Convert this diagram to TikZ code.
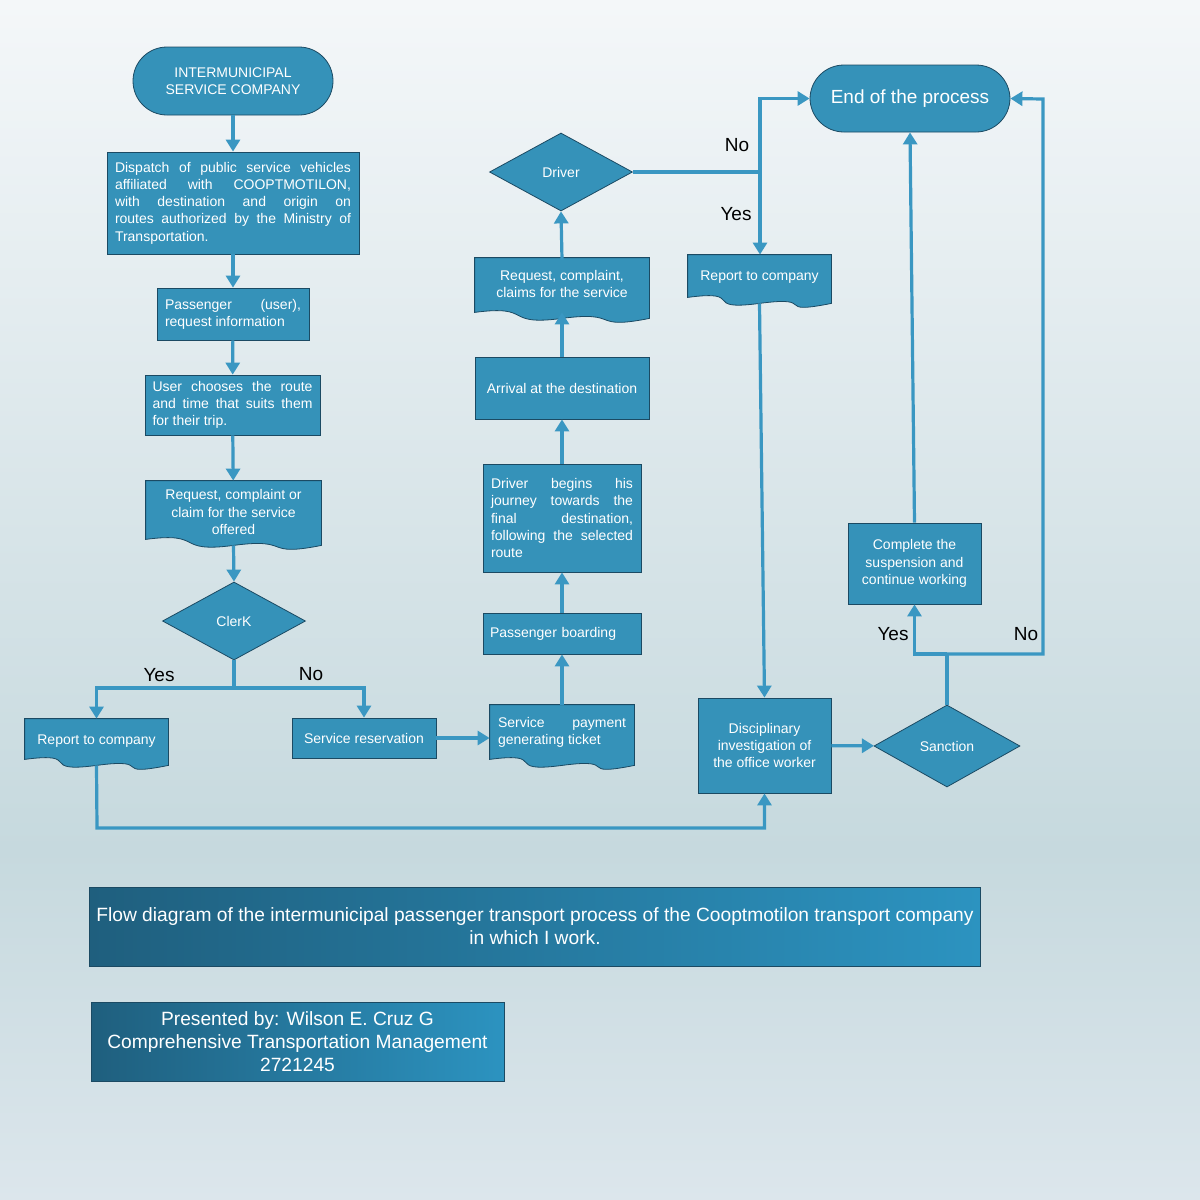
\documentclass[tikz,border=0pt]{standalone}
\usepackage{fontspec}
\setmainfont{Liberation Sans}
\usetikzlibrary{shapes.geometric,arrows.meta,calc}
\definecolor{bfill}{HTML}{3592B9}
\definecolor{bdraw}{HTML}{1B4A63}
\definecolor{lcol}{HTML}{3A97C2}
\definecolor{bgtop}{HTML}{F4F7F9}
\definecolor{bgmid}{HTML}{C6D9DE}
\definecolor{bgbot}{HTML}{DCE6EC}
\definecolor{capl}{HTML}{1F5F7E}
\definecolor{capr}{HTML}{2C93C0}
\hyphenpenalty=10000 \exhyphenpenalty=10000
\begin{document}
\begin{tikzpicture}[x=0.5pt,y=-0.5pt,
 box/.style={draw=bdraw,fill=bfill,text=white,font=\fontsize{7}{8.6}\selectfont,inner sep=3pt},
 doc/.style={font=\fontsize{7}{8.6}\selectfont,text=white,inner sep=3pt},
 dia/.style={diamond,draw=bdraw,fill=bfill,text=white,font=\fontsize{7}{8.6}\selectfont,aspect=1.8,inner sep=1pt},
 ln/.style={draw=lcol,line width=1.6pt},
 ar/.style={ln,-{Triangle[length=6pt,width=7pt]}},
 lab/.style={font=\fontsize{9.5}{11}\selectfont,text=black}]
\useasboundingbox (0,0) rectangle (1200,1200);
\shade[top color=bgtop, bottom color=bgmid] (0,0) rectangle (1200,850);
\shade[top color=bgmid, bottom color=bgbot] (0,850) rectangle (1200,1200);
\newcommand{\docdraw}[1]{\fill[bfill,draw=bdraw] (#1.north west) -- (#1.north east) -- ([yshift=-3pt]#1.south east) .. controls +(-30pt,-6pt) and +(30pt,4pt) .. ([yshift=-3pt]$(#1.south west)!0.5!(#1.south east)$) .. controls +(-30pt,-4pt) and +(30pt,4pt) .. (#1.south west) -- cycle;}
% nodes
\node[box,rounded corners=17pt,minimum width=100pt,minimum height=34pt,align=center] (start) at (233,81) {INTERMUNICIPAL\\SERVICE COMPANY};
\node[box,minimum width=126pt,minimum height=51pt,text width=118pt,align=justify] (disp) at (233,203) {Dispatch of public service vehicles affiliated with COOPTMOTILON, with destination and origin on routes authorized by the Ministry of Transportation.};
\node[box,minimum width=76pt,minimum height=26pt,text width=68pt,align=justify] (pass) at (233,314) {Passenger (user), request information};
\node[box,minimum width=87.5pt,minimum height=30pt,text width=80pt,align=justify] (user) at (232.5,405) {User chooses the route and time that suits them for their trip.};
\node[doc,minimum width=87.5pt,minimum height=29pt,align=center] (req) at (233.5,510) {};
\docdraw{req}
\node[doc,align=center] at (233.5,512) {Request, complaint or\\claim for the service\\offered};
\node[dia,minimum width=71.5pt,minimum height=39pt] (clerk) at (234,621) {ClerK};
\node[doc,minimum width=71.5pt,minimum height=20pt] (rep1) at (96.5,739) {};
\docdraw{rep1}
\node[doc] at (96.5,741) {Report to company};
\node[box,minimum width=72pt,minimum height=20pt] (res) at (364,738) {Service reservation};
\node[doc,minimum width=72pt,minimum height=27pt] (pay) at (562,732) {};
\docdraw{pay}
\node[doc,text width=64pt,align=justify] at (562,732) {Service payment generating ticket};
\node[box,minimum width=79pt,minimum height=20.5pt,text width=72pt,align=left] (board) at (562,633.5) {Passenger boarding};
\node[box,minimum width=79pt,minimum height=54pt,text width=71pt,align=justify] (begin) at (562,518) {Driver begins his journey towards the final destination, following the selected route};
\node[box,minimum width=87pt,minimum height=31pt] (arr) at (562,388) {Arrival at the destination};
\node[doc,minimum width=87pt,minimum height=27pt] (claim) at (562,285) {};
\docdraw{claim}
\node[doc,align=center] at (562,284) {Request, complaint,\\claims for the service};
\node[dia,minimum width=71.5pt,minimum height=39pt] (drv) at (561,172) {Driver};
\node[doc,minimum width=71.5pt,minimum height=21pt] (rep2) at (759.5,276) {};
\docdraw{rep2}
\node[doc] at (759.5,277) {Report to company};
\node[box,minimum width=66.5pt,minimum height=47.5pt,align=center] (disc) at (764.5,745.5) {Disciplinary\\investigation of\\the office worker};
\node[dia,minimum width=73pt,minimum height=41pt] (sanc) at (947,746) {Sanction};
\node[box,minimum width=66.5pt,minimum height=40.5pt,align=center] (comp) at (914.5,563.5) {Complete the\\suspension and\\continue working};
\node[box,rounded corners=17pt,minimum width=100pt,minimum height=33.5pt,font=\fontsize{9.5}{11}\selectfont] (end) at (910,98.5) {End of the process};
% caption boxes
\node[draw=bdraw,left color=capl,right color=capr,text=white,minimum width=444pt,minimum height=39.5pt,align=center,font=\fontsize{9.6}{11.5}\selectfont] (cap) at (535,926.5) {Flow diagram of the intermunicipal passenger transport process of the Cooptmotilon transport company\\in which I work.};
\node[draw=bdraw,left color=capl,right color=capr,text=white,minimum width=206.5pt,minimum height=39.5pt,align=center,font=\fontsize{9.6}{11.5}\selectfont] (pres) at (297.5,1041.5) {Presented by: Wilson E. Cruz G\\Comprehensive Transportation Management\\2721245};
% connectors
\draw[ar] (start) -- (disp);
\draw[ar] (disp) -- (pass);
\draw[ar] (pass) -- (user);
\draw[ar] (user) -- (req);
\draw[ar] (req.south) ++(0,-3pt) -- (clerk.north);
\coordinate (cb) at (234,688);
\draw[ln] (clerk.south) -- (cb);
\draw[ar] (cb) -| (rep1.north);
\draw[ar] (cb) -| (res.north);
\node[lab] at (159,675) {Yes};
\node[lab] at (311,674) {No};
\coordinate (bl) at (97,828);
\draw[ar] ([yshift=-3pt]rep1.south) -- (bl) -| (disc.south);
\draw[ar] (res) -- (pay.west |- res);
\draw[ar] (pay.north) -- (board.south);
\draw[ar] (board) -- (begin);
\draw[ar] (begin) -- (arr);
\draw[ar] (arr) -- (claim);
\draw[ar] ([yshift=-1pt]claim.north) -- (drv.south);
\coordinate (dj) at (760,172);
\draw[ln] (drv.east) -- (dj);
\draw[ar] (dj) |- (end.west);
\draw[ar] (dj) -- (rep2.north -| dj);
\node[lab] at (737,145) {No};
\node[lab] at (736,214) {Yes};
\draw[ar] ([yshift=-3pt]rep2.south) -- (disc.north);
\draw[ar] (disc) -- (sanc);
\coordinate (sj) at (947,654);
\draw[ln] (sanc.north) -- (sj);
\draw[ar] (sj) -| (comp.south);
\draw[ar] (sj) -| (1043,99) -- (end.east);
\node[lab] at (893,634) {Yes};
\node[lab] at (1026,634) {No};
\draw[ar] (comp.north) -- (end.south);
\end{tikzpicture}
\end{document}
